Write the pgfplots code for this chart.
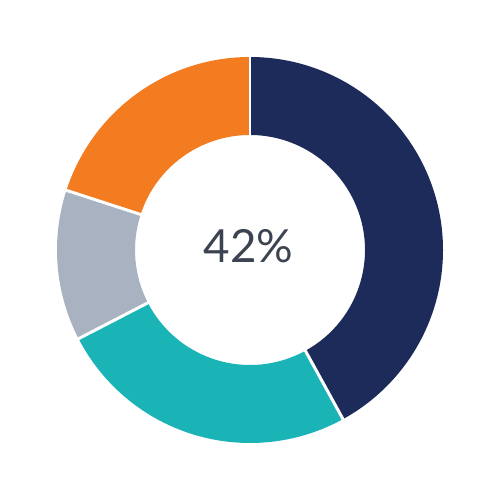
\documentclass[border=0pt]{standalone}
\usepackage{pgfplots}
\pgfplotsset{compat=1.18}
\usepackage{pgfplotstable}
\usepackage{fontspec}
\setmainfont{Lato}

\definecolor{dnavy}{HTML}{1C2B5A}
\definecolor{dteal}{HTML}{1BB4B6}
\definecolor{dslate}{HTML}{A8B2C1}
\definecolor{dorange}{HTML}{F47C20}
\definecolor{dtext}{HTML}{3D4451}

% shares in percent, clockwise from 12 o'clock
\pgfplotstableread{
share colour
42 dnavy
25.4 dteal
12.6 dslate
20 dorange
}\shares

\begin{document}
\begin{tikzpicture}
\begin{axis}[
  x=0.02cm, y=0.02cm,
  xmin=-250, xmax=250, ymin=-250, ymax=250,
  hide axis,
]
\pgfplotsextra{
  \begin{scope}[shift={(axis cs:0,0)}, x=0.02cm, y=0.02cm]
    \fill[white] (-250,-250) rectangle (250,250);
    \def\R{193}\def\r{115}
    \xdef\start{90}
    \pgfplotstablegetrowsof{\shares}
    \pgfmathtruncatemacro\last{\pgfplotsretval-1}
    \foreach \i in {0,...,\last}{
      \pgfplotstablegetelem{\i}{share}\of\shares \let\v\pgfplotsretval
      \pgfplotstablegetelem{\i}{colour}\of\shares \let\c\pgfplotsretval
      \pgfmathsetmacro\stop{\start-3.6*\v}
      \fill[fill=\c] (\start:\R) arc[start angle=\start, end angle=\stop, radius=\R]
        -- (\stop:\r) arc[start angle=\stop, end angle=\start, radius=\r] -- cycle;
      \xdef\start{\stop}
    }
    % white gaps between segments
    \xdef\start{90}
    \foreach \i in {0,...,\last}{
      \pgfplotstablegetelem{\i}{share}\of\shares \let\v\pgfplotsretval
      \draw[white, line width=1.7pt] (\start:\r-2) -- (\start:\R+2);
      \pgfmathsetmacro\stop{\start-3.6*\v}
      \xdef\start{\stop}
    }
  \end{scope}
}
\node[anchor=base, text=dtext, font=\fontsize{26}{26}\selectfont]
  at (axis cs:-1.5,-13) {42\%};
\end{axis}
\end{tikzpicture}
\end{document}
